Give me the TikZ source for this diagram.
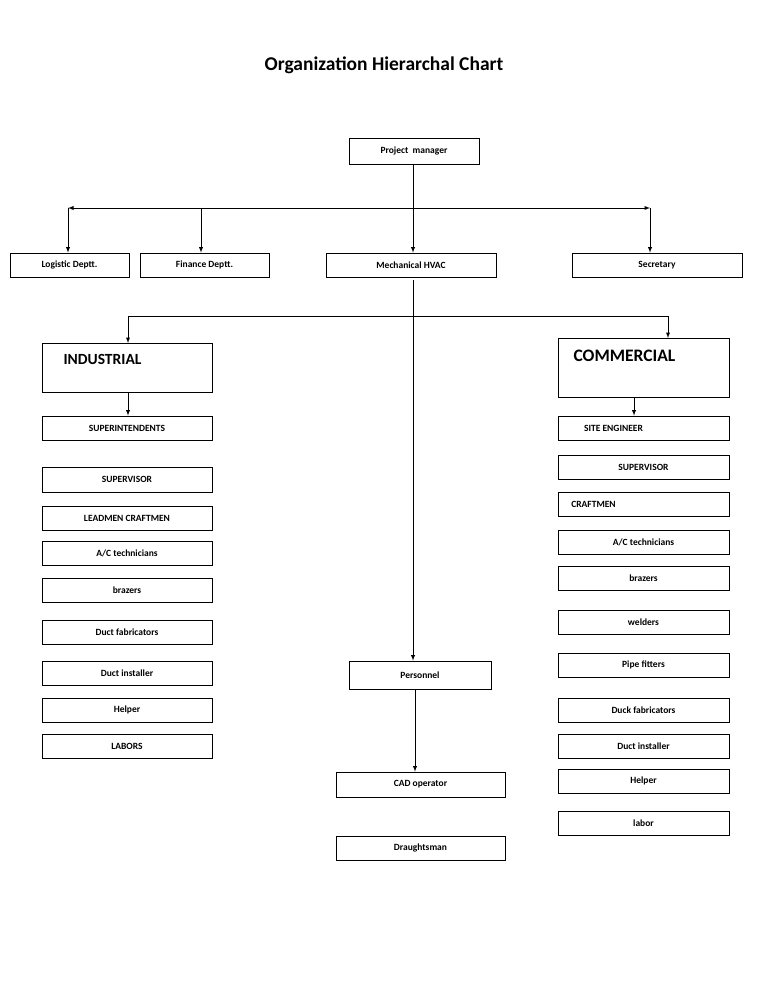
\documentclass[tikz,border=0pt]{standalone}
\usepackage{fontspec}
\setmainfont{Carlito}
\begin{document}
\begin{tikzpicture}[x=1pt,y=-1pt,
 bx/.style={draw,line width=0.8pt,inner sep=0pt,font=\bfseries\fontsize{9.5}{11}\selectfont},
 ar/.style={-latex,line width=0.9pt},ln/.style={line width=0.9pt}]
\useasboundingbox (0,0) rectangle (768,994);
\newcommand\bx[6]{\node[bx,minimum width=#4-#2,minimum height=#5-#3] (#1) at ({(#2+#4)/2},{(#3+#5)/2}) {#6};}
\node[font=\bfseries\fontsize{19.5}{22}\selectfont] (title) at (384,65) {Organization Hierarchal Chart};
\bx{pm}{349}{138}{479}{164}{Project\ \ manager}
\bx{log}{10}{253}{129}{277}{Logistic Deptt.}
\bx{fin}{140}{253}{269}{277}{Finance Deptt.}
\bx{mech}{326}{253}{496}{277}{Mechanical HVAC}
\bx{sec}{572}{253}{742}{277}{Secretary}
\coordinate (jl) at (68,208); \coordinate (jr) at (650,208);
\coordinate (jf) at (201,208); \coordinate (jm) at (413,208);
\draw[ln] (pm.south -| jm) -- (jm);
\draw[ar] (jm) -- (jl); \draw[ar] (jm) -- (jr);
\draw[ar] (jl) -- (log.north -| jl);
\draw[ar] (jf) -- (fin.north -| jf);
\draw[ar] (jm) -- (mech.north -| jm);
\draw[ar] (jr) -- (sec.north -| jr);
\node[bx,minimum width=170,minimum height=49,anchor=north west] (ind) at (42,343) {};
\node[font=\bfseries\fontsize{15.5}{18}\selectfont,anchor=north west] (indt) at (60,351) {INDUSTRIAL};
\node[bx,minimum width=171,minimum height=59,anchor=north west] (com) at (558,338) {};
\node[font=\bfseries\fontsize{17.5}{20}\selectfont,anchor=north west] (comt) at (570,346) {COMMERCIAL};
\bx{per}{349}{661}{491}{689}{Personnel}
\coordinate (mtop) at (413,280); \coordinate (h) at (413,316);
\coordinate (hl) at (128,316); \coordinate (hr) at (668,316);
\draw[ar] (mtop) -- (per.north -| mtop);
\draw[ln] (hl) -- (hr);
\draw[ar] (hl) -- (ind.north -| hl);
\draw[ar] (hr) -- (com.north -| hr);
\bx{si}{42}{416}{212}{440}{SUPERINTENDENTS}
\draw[ar] (ind.south -| hl) -- (si.north -| hl);
\bx{i1}{42}{467}{212}{492}{SUPERVISOR}
\bx{i2}{42}{506}{212}{530}{LEADMEN CRAFTMEN}
\bx{i3}{42}{541}{212}{565}{A/C technicians}
\bx{i4}{42}{578}{212}{602}{brazers}
\bx{i5}{42}{620}{212}{644}{Duct fabricators}
\bx{i6}{42}{661}{212}{685}{Duct installer}
\bx{i7}{42}{698}{212}{722}{Helper}
\bx{i8}{42}{734}{212}{758}{LABORS}
\bx{se}{558}{416}{729}{440}{\hspace*{-60pt}SITE ENGINEER}
\draw[ar] (com.south -| 634,0) -- (se.north -| 634,0);
\bx{c1}{558}{455}{729}{479}{SUPERVISOR}
\bx{c2}{558}{492}{729}{516}{\hspace*{-100pt}CRAFTMEN}
\bx{c3}{558}{530}{729}{554}{A/C technicians}
\bx{c4}{558}{566}{729}{590}{brazers}
\bx{c5}{558}{610}{729}{634}{welders}
\bx{c6}{558}{653}{729}{677}{Pipe fitters}
\bx{c7}{558}{698}{729}{722}{Duck fabricators}
\bx{c8}{558}{734}{729}{758}{Duct installer}
\bx{c9}{558}{769}{729}{793}{Helper}
\bx{c10}{558}{811}{729}{835}{labor}
\bx{cad}{336}{772}{505}{797}{CAD operator}
\bx{dr}{336}{836}{505}{860}{Draughtsman}
\draw[ar] (per.south -| 415,0) -- (cad.north -| 415,0);
\end{tikzpicture}
\end{document}
